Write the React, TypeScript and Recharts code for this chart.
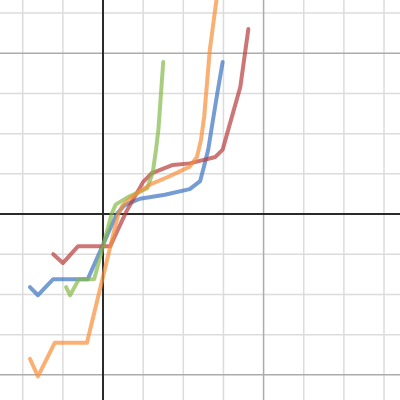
import React from 'react';
import { LineChart, Line, XAxis, YAxis, ReferenceLine } from 'recharts';

// Curve points (grid: minor 0.5, major 2)
const blueX = [-0.91, -0.81, -0.62, -0.19, 0.17, 0.27, 0.46, 0.77, 1.08, 1.21, 1.26, 1.31, 1.36, 1.42, 1.49];
const blueY = [-0.91, -1.01, -0.81, -0.81, 0.0, 0.11, 0.19, 0.24, 0.31, 0.41, 0.6, 0.8, 1.11, 1.48, 1.89];

const redX = [-0.62, -0.5, -0.31, 0.09, 0.29, 0.5, 0.61, 0.87, 1.08, 1.4, 1.49, 1.56, 1.71, 1.81];
const redY = [-0.5, -0.61, -0.4, -0.4, 0.03, 0.4, 0.51, 0.61, 0.63, 0.71, 0.8, 1.05, 1.58, 2.3];

const greenX = [-0.46, -0.41, -0.3, -0.11, 0.11, 0.16, 0.31, 0.55, 0.62, 0.66, 0.69, 0.75];
const greenY = [-0.91, -1.01, -0.81, -0.81, 0.01, 0.12, 0.21, 0.32, 0.52, 0.8, 1.05, 1.89];

const orangeX = [-0.91, -0.81, -0.6, -0.2, 0.19, 0.24, 0.34, 0.59, 0.83, 1.08, 1.17, 1.22, 1.26, 1.33, 1.43];
const orangeY = [-1.8, -2.02, -1.6, -1.6, 0.0, 0.1, 0.2, 0.37, 0.47, 0.59, 0.71, 0.92, 1.21, 2.04, 2.79];

const minorX = [-1, -0.5, 0.5, 1, 1.5, 2.5, 3, 3.5];
const majorX = [2];
const minorY = [2.5, 1.5, 1, 0.5, -0.5, -1, -1.5];
const majorY = [2, -2];

const X_DOMAIN = [-1.283, 3.699];
const Y_DOMAIN = [-2.313, 2.662];

const toPoints = (xs: number[], ys: number[]) => xs.map((x, i) => ({ x, y: ys[i] }));

const series = [
  { name: 'blue', color: '#3a74c0', data: toPoints(blueX, blueY) },
  { name: 'red', color: '#b83c3c', data: toPoints(redX, redY) },
  { name: 'green', color: '#86b948', data: toPoints(greenX, greenY) },
  { name: 'orange', color: '#f88d37', data: toPoints(orangeX, orangeY) },
];

export default function App() {
  return (
    <div style={{ position: 'absolute', top: 0, left: 0, width: 400, height: 400, background: '#fff' }}>
      <LineChart width={400} height={400} margin={{ top: 0, right: 0, bottom: 0, left: 0 }}>
        <XAxis type="number" dataKey="x" domain={X_DOMAIN} allowDataOverflow hide />
        <YAxis type="number" dataKey="y" domain={Y_DOMAIN} allowDataOverflow hide />

        {minorX.map(v => <ReferenceLine key={'mx' + v} x={v} stroke="#dcdcdc" strokeWidth={1.5} />)}
        {minorY.map(v => <ReferenceLine key={'my' + v} y={v} stroke="#dcdcdc" strokeWidth={1.5} />)}
        {majorX.map(v => <ReferenceLine key={'Mx' + v} x={v} stroke="#ababab" strokeWidth={1.5} />)}
        {majorY.map(v => <ReferenceLine key={'My' + v} y={v} stroke="#ababab" strokeWidth={1.5} />)}
        <ReferenceLine x={0} stroke="#2a2a2a" strokeWidth={2} />
        <ReferenceLine y={0} stroke="#2a2a2a" strokeWidth={2} />

        {series.map(s => (
          <Line
            key={s.name}
            data={s.data}
            dataKey="y"
            type="linear"
            stroke={s.color}
            strokeOpacity={0.7}
            strokeWidth={4}
            strokeLinejoin="round"
            strokeLinecap="round"
            dot={false}
            activeDot={false}
            isAnimationActive={false}
          />
        ))}
      </LineChart>
    </div>
  );
}
